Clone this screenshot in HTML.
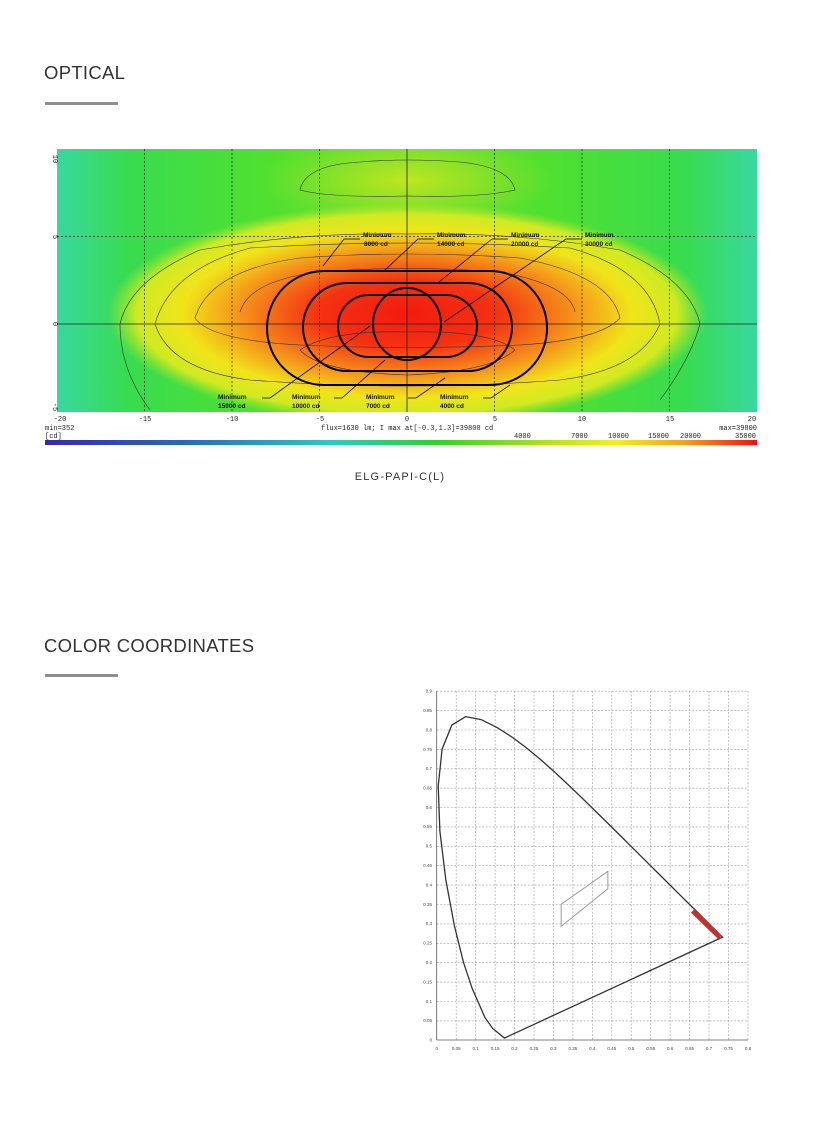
<!DOCTYPE html>
<html><head><meta charset="utf-8"><style>
body{margin:0;background:#fff;width:827px;height:1122px;position:relative;overflow:hidden;font-family:"Liberation Sans",sans-serif}
.h{position:absolute;left:44px;font-size:18.5px;color:#333;font-weight:300;letter-spacing:0.3px}
.bar{position:absolute;left:45px;width:73px;height:3px;background:#8f8f8f}
</style></head><body>
<div class="h" style="top:62px">OPTICAL</div>
<div class="bar" style="top:102px"></div>
<div class="h" style="top:635px">COLOR COORDINATES</div>
<div class="bar" style="top:674px"></div>
<div style="position:absolute;top:471px;left:0;width:800px;text-align:center;font-size:11px;letter-spacing:1.2px;color:#333">ELG-PAPI-C(L)</div>

<svg style="position:absolute;left:0;top:0" width="827" height="1122">
<defs>
<linearGradient id="bg" x1="0" x2="1" y1="0" y2="0">
<stop offset="0" stop-color="#38d8a0"/><stop offset="0.1" stop-color="#38dc50"/><stop offset="0.3" stop-color="#50e030"/><stop offset="0.5" stop-color="#70e030"/><stop offset="0.7" stop-color="#50e030"/><stop offset="0.9" stop-color="#38dc50"/><stop offset="1" stop-color="#38d8a0"/></linearGradient>
<radialGradient id="hot" cx="407" cy="314" r="300" gradientUnits="userSpaceOnUse" gradientTransform="translate(407 314) scale(1 0.37) translate(-407 -314)">
<stop offset="0" stop-color="#f41a10"/><stop offset="0.3" stop-color="#f43212"/><stop offset="0.55" stop-color="#f5901a"/><stop offset="0.75" stop-color="#f0e41a"/><stop offset="0.9" stop-color="#d0ea22"/><stop offset="1" stop-color="#b0e42a" stop-opacity="0"/></radialGradient>
<radialGradient id="top" cx="407" cy="180" r="150" gradientUnits="userSpaceOnUse" gradientTransform="translate(407 180) scale(1 0.3) translate(-407 -180)">
<stop offset="0" stop-color="#c0e620"/><stop offset="1" stop-color="#a0e020" stop-opacity="0"/></radialGradient>
<linearGradient id="cb" x1="0" x2="1">
<stop offset="0" stop-color="#3a2aa0"/><stop offset="0.2" stop-color="#2a6ab8"/><stop offset="0.4" stop-color="#30c8c0"/><stop offset="0.55" stop-color="#30d030"/><stop offset="0.7" stop-color="#b0e020"/><stop offset="0.8" stop-color="#f0f020"/><stop offset="0.9" stop-color="#f0a020"/><stop offset="1" stop-color="#f01010"/></linearGradient>
</defs>
<rect x="57" y="149" width="700" height="263" fill="url(#bg)"/>
<rect x="57" y="149" width="700" height="263" fill="url(#top)"/>
<rect x="57" y="149" width="700" height="263" fill="url(#hot)"/>
<g stroke="#222" stroke-width="0.7" stroke-dasharray="2 2" fill="none">
<line x1="144.5" y1="149" x2="144.5" y2="412"/><line x1="232" y1="149" x2="232" y2="412"/><line x1="319.5" y1="149" x2="319.5" y2="412"/><line x1="494.5" y1="149" x2="494.5" y2="412"/><line x1="582" y1="149" x2="582" y2="412"/><line x1="669.5" y1="149" x2="669.5" y2="412"/>
<line x1="57" y1="236.5" x2="757" y2="236.5"/>
</g>
<line x1="407" y1="149" x2="407" y2="412" stroke="#222" stroke-width="0.8"/>
<line x1="57" y1="324" x2="757" y2="324" stroke="#222" stroke-width="0.8"/>
<g stroke="#333" stroke-width="0.6" fill="none">
<path d="M300 190 Q305 165 360 162 Q407 158 460 162 Q510 167 515 190 Q480 198 407 196 Q330 198 300 190Z"/>
<path d="M120 324 Q130 280 200 250 Q300 232 407 234 Q520 232 620 250 Q690 280 700 324 Q690 360 660 400 M150 410 Q120 370 120 324"/>
<path d="M155 324 Q170 270 250 248 Q407 238 570 248 Q650 270 660 324 Q640 370 560 380 Q407 392 250 380 Q170 370 155 324Z"/>
<path d="M195 318 Q210 270 300 258 Q407 250 520 258 Q610 275 620 318 Q600 340 520 345 Q407 350 300 345 Q210 340 195 318Z"/>
<path d="M240 312 Q250 280 320 272 Q407 265 500 272 Q570 285 575 312"/>
<path d="M300 350 Q330 330 407 332 Q490 330 515 350 Q490 372 407 375 Q320 372 300 350Z"/>
</g>
<g stroke="#000" stroke-width="2" fill="none">
<rect x="267" y="271" width="280" height="114" rx="57"/>
<rect x="303" y="283" width="209" height="88" rx="44"/>
<rect x="338" y="295" width="139" height="62" rx="31"/>
<ellipse cx="407" cy="324" rx="34" ry="36"/>
</g>
<g stroke="#000" stroke-width="0.8" fill="none">
<path d="M360 239 L344 239 L323 266"/><path d="M434 239 L418 239 L383 272"/><path d="M508 239 L492 239 L439 282"/><path d="M582 239 L566 239 L444 322"/>
<path d="M262 398 L270 398 L370 326"/><path d="M334 398 L342 398 L385 360"/><path d="M408 398 L416 398 L445 378"/><path d="M483 398 L491 398 L510 385"/>
</g>
<g font-family="Liberation Sans" font-weight="bold" font-size="6.5" fill="#111">
<text x="363" y="237">Minimum</text><text x="364" y="246">8000 cd</text>
<text x="437" y="237">Minimum</text><text x="437" y="246">14000 cd</text>
<text x="511" y="237">Minimum</text><text x="511" y="246">20000 cd</text>
<text x="585" y="237">Minimum</text><text x="585" y="246">30000 cd</text>
<text x="218" y="399">Minimum</text><text x="218" y="408">15000 cd</text>
<text x="292" y="399">Minimum</text><text x="292" y="408">10000 cd</text>
<text x="366" y="399">Minimum</text><text x="366" y="408">7000 cd</text>
<text x="440" y="399">Minimum</text><text x="440" y="408">4000 cd</text>
</g>
<g font-family="Liberation Mono" font-size="7" fill="#222">
<text x="53" y="159" transform="rotate(90 53 159)" text-anchor="middle">10</text>
<text x="53" y="237" transform="rotate(90 53 237)" text-anchor="middle">5</text>
<text x="53" y="324" transform="rotate(90 53 324)" text-anchor="middle">0</text>
<text x="53" y="407" transform="rotate(90 53 407)" text-anchor="middle">-5</text>
<g text-anchor="middle"><text x="60" y="421">-20</text><text x="145" y="421">-15</text><text x="232" y="421">-10</text><text x="320" y="421">-5</text><text x="407" y="421">0</text><text x="495" y="421">5</text><text x="582" y="421">10</text><text x="670" y="421">15</text><text x="752" y="421">20</text></g>
<text x="45" y="430">min=352</text>
<text x="321" y="430">flux=1630 lm; I max at[-0.3,1.3]=39800 cd</text>
<text x="757" y="430" text-anchor="end">max=39800</text>
<text x="45" y="438">[cd]</text>
<text x="514" y="438">4000</text><text x="571" y="438">7000</text><text x="608" y="438">10000</text><text x="648" y="438">15000</text><text x="680" y="438">20000</text><text x="735" y="438">35000</text>
</g>
<rect x="45" y="440" width="712" height="5" fill="url(#cb)"/>

<g stroke="#999" stroke-width="0.6" stroke-dasharray="2 1.5" fill="none">
<path d="M456.2 691V1040M475.6 691V1040M495.1 691V1040M514.5 691V1040M534 691V1040M553.4 691V1040M572.9 691V1040M592.3 691V1040M611.8 691V1040M631.2 691V1040M650.7 691V1040M670.1 691V1040M689.6 691V1040M709 691V1040M728.5 691V1040M748 691V1040"/>
<path d="M436.7 691.2H748M436.7 710.6H748M436.7 730H748M436.7 749.4H748M436.7 768.8H748M436.7 788.2H748M436.7 807.5H748M436.7 826.9H748M436.7 846.3H748M436.7 865.7H748M436.7 885.1H748M436.7 904.5H748M436.7 923.9H748M436.7 943.3H748M436.7 962.7H748M436.7 982.1H748M436.7 1001.5H748M436.7 1020.9H748"/>
</g>
<line x1="436.7" y1="691" x2="436.7" y2="1040" stroke="#555" stroke-width="0.8"/>
<line x1="436.7" y1="1040" x2="748" y2="1040" stroke="#555" stroke-width="0.8"/>
<g transform="translate(436.7 1040) scale(389 -387.8)">
<path vector-effect="non-scaling-stroke" stroke="#333" stroke-width="1.3" fill="none" d="M0.1741 0.005 L0.144 0.0297 L0.1241 0.0578 L0.0913 0.1327 L0.0687 0.2007 L0.0454 0.295 L0.0235 0.4127 L0.0082 0.5384 L0.0039 0.6548 L0.0139 0.7502 L0.0389 0.812 L0.0743 0.8338 L0.1142 0.8262 L0.1547 0.8059 L0.1929 0.7816 L0.2296 0.7543 L0.2658 0.7243 L0.3016 0.6923 L0.3373 0.6589 L0.3731 0.6245 L0.4087 0.5896 L0.4441 0.5547 L0.4788 0.5202 L0.5125 0.4866 L0.5448 0.4544 L0.5752 0.4242 L0.6029 0.3965 L0.627 0.3725 L0.6482 0.3514 L0.6658 0.334 L0.6801 0.3197 L0.6915 0.3083 L0.7006 0.2993 L0.7347 0.2653 Z"/>
<path vector-effect="non-scaling-stroke" stroke="#999" stroke-width="1" fill="none" d="M0.32 0.35 L0.44 0.435 L0.44 0.39 L0.32 0.293 Z"/>
<path vector-effect="non-scaling-stroke" stroke="#c8302c" stroke-width="5" d="M0.658 0.333 L0.728 0.265"/>
</g>
<g font-family="Liberation Sans" font-size="4.5" fill="#444">
<g text-anchor="end"><text x="432" y="692.5">0.9</text><text x="432" y="712">0.85</text><text x="432" y="731.5">0.8</text><text x="432" y="751">0.75</text><text x="432" y="770">0.7</text><text x="432" y="789.5">0.65</text><text x="432" y="809">0.6</text><text x="432" y="828">0.55</text><text x="432" y="847.5">0.5</text><text x="432" y="867">0.45</text><text x="432" y="886.5">0.4</text><text x="432" y="906">0.35</text><text x="432" y="925">0.3</text><text x="432" y="944.5">0.25</text><text x="432" y="964">0.2</text><text x="432" y="983.5">0.15</text><text x="432" y="1003">0.1</text><text x="432" y="1022">0.05</text><text x="432" y="1041.5">0</text></g>
<g text-anchor="middle"><text x="436.7" y="1050">0</text><text x="456.2" y="1050">0.05</text><text x="475.6" y="1050">0.1</text><text x="495.1" y="1050">0.15</text><text x="514.5" y="1050">0.2</text><text x="534" y="1050">0.25</text><text x="553.4" y="1050">0.3</text><text x="572.9" y="1050">0.35</text><text x="592.3" y="1050">0.4</text><text x="611.8" y="1050">0.45</text><text x="631.2" y="1050">0.5</text><text x="650.7" y="1050">0.55</text><text x="670.1" y="1050">0.6</text><text x="689.6" y="1050">0.65</text><text x="709" y="1050">0.7</text><text x="728.5" y="1050">0.75</text><text x="748" y="1050">0.8</text></g>
</g>
</svg>
</body></html>
